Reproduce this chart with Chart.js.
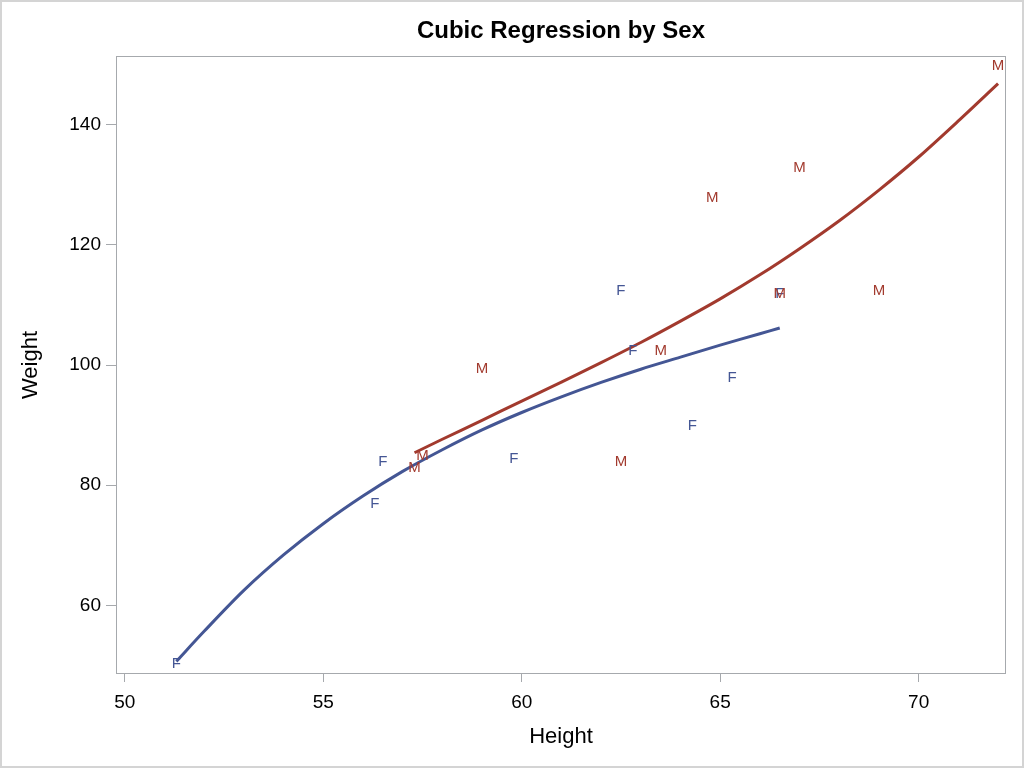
<!DOCTYPE html>
<html><head><meta charset="utf-8">
<script src="https://cdn.jsdelivr.net/npm/chart.js@4"></script>
<style>html,body{margin:0;padding:0;background:#fff}canvas{display:block}</style>
</head><body>
<canvas id="c" width="1024" height="768"></canvas>
<script>
// Observations (Height, Weight)
const femaleHeight = [56.5, 65.3, 62.8, 59.8, 62.5, 51.3, 64.3, 56.3, 66.5];
const femaleWeight = [84.0, 98.0, 102.5, 84.5, 112.5, 50.5, 90.0, 77.0, 112.0];
const maleHeight = [69.0, 63.5, 57.3, 62.5, 59.0, 72.0, 64.8, 67.0, 57.5, 66.5];
const maleWeight = [112.5, 102.5, 83.0, 84.0, 99.5, 150.0, 128.0, 133.0, 85.0, 112.0];
// Fitted cubic curves
const femaleFitX = [51.3, 52, 53, 54, 55, 56, 57, 58, 59, 60, 61, 62, 63, 64, 65, 66, 66.5];
const femaleFitY = [50.7, 55.7, 62.5, 68.4, 73.6, 78.2, 82.3, 85.9, 89.2, 92.1, 94.7, 97.1, 99.3, 101.3, 103.3, 105.2, 106.15];
const maleFitX = [57.3, 58, 59, 60, 61, 62, 63, 64, 65, 66, 67, 68, 69, 70, 71, 72];
const maleFitY = [85.4, 87.65, 90.8, 94.0, 97.15, 100.4, 103.75, 107.3, 111.0, 115.0, 119.35, 124.0, 129.1, 134.6, 140.6, 146.8];
const xTicks = [50, 55, 60, 65, 70];
const yTicks = [60, 80, 100, 120, 140];
const titleText = 'Cubic Regression by Sex';

const BLUE = '#445694', RED = '#A23A2E';
const FONT = '"Liberation Sans", Arial, sans-serif';
const pts = (xs, ys) => xs.map((x, i) => ({x, y: ys[i]}));

const labelPlugin = {
  id: 'labels',
  beforeDraw(chart) {
    const ctx = chart.ctx;
    ctx.save();
    ctx.fillStyle = '#fff';
    ctx.fillRect(0, 0, chart.width, chart.height);
    ctx.restore();
  },
  afterDatasetsDraw(chart) {
    const ctx = chart.ctx;
    ctx.save();
    ctx.font = '15px ' + FONT;
    ctx.textAlign = 'center';
    ctx.textBaseline = 'middle';
    chart.data.datasets.forEach((ds, i) => {
      if (!ds.markText) return;
      ctx.fillStyle = ds.markColor;
      chart.getDatasetMeta(i).data.forEach(el => ctx.fillText(ds.markText, el.x, el.y + 1));
    });
    ctx.restore();
  },
  afterDraw(chart) {
    const ctx = chart.ctx, a = chart.chartArea;
    ctx.save();
    ctx.strokeStyle = '#a6a9ad';
    ctx.lineWidth = 1;
    ctx.strokeRect(Math.round(a.left) + 0.5, Math.round(a.top) + 0.5, Math.round(a.right - a.left) - 1, Math.round(a.bottom - a.top) - 1);
    ctx.strokeStyle = '#d4d4d4';
    ctx.lineWidth = 2;
    ctx.strokeRect(1, 1, chart.width - 2, chart.height - 2);
    ctx.fillStyle = '#000';
    ctx.font = 'bold 24px ' + FONT;
    ctx.textAlign = 'center';
    ctx.textBaseline = 'middle';
    ctx.fillText(titleText, (a.left + a.right) / 2, 31);
    ctx.restore();
  }
};

new Chart(document.getElementById('c'), {
  type: 'scatter',
  data: {
    datasets: [
      {label: 'F', data: pts(femaleHeight, femaleWeight), pointRadius: 0, markText: 'F', markColor: BLUE},
      {label: 'M', data: pts(maleHeight, maleWeight), pointRadius: 0, markText: 'M', markColor: RED},
      {type: 'line', label: 'F fit', data: pts(femaleFitX, femaleFitY), borderColor: BLUE, borderWidth: 3, pointRadius: 0, tension: 0.3, fill: false},
      {type: 'line', label: 'M fit', data: pts(maleFitX, maleFitY), borderColor: RED, borderWidth: 3, pointRadius: 0, tension: 0.3, fill: false}
    ]
  },
  options: {
    responsive: false,
    animation: false,
    layout: {padding: {left: 0, right: 18, top: 56, bottom: 18}},
    plugins: {
      legend: {display: false},
      tooltip: {enabled: false},
      title: {display: false}
    },
    scales: {
      x: {
        type: 'linear', min: 49.78, max: 72.2,
        afterBuildTicks: s => { s.ticks = xTicks.map(v => ({value: v})); },
        ticks: {color: '#000', font: {family: FONT, size: 19}, padding: 9},
        grid: {display: true, drawOnChartArea: false, drawTicks: true, tickLength: 8, color: '#a6a9ad'},
        border: {display: false},
        title: {display: true, text: 'Height', color: '#000', font: {family: FONT, size: 22}, padding: {top: 4, bottom: 0}},
        afterFit: s => { s.height = 768 - 674 - 18; }
      },
      y: {
        type: 'linear', min: 48.6, max: 151.4,
        afterBuildTicks: s => { s.ticks = yTicks.map(v => ({value: v})); },
        ticks: {color: '#000', font: {family: FONT, size: 19}, padding: 5},
        grid: {display: true, drawOnChartArea: false, drawTicks: true, tickLength: 10, color: '#a6a9ad'},
        border: {display: false},
        title: {display: true, text: 'Weight', color: '#000', font: {family: FONT, size: 22}, padding: {top: 18, bottom: 4}},
        afterFit: s => { s.width = 116; }
      }
    }
  },
  plugins: [labelPlugin]
});
</script>
</body></html>
